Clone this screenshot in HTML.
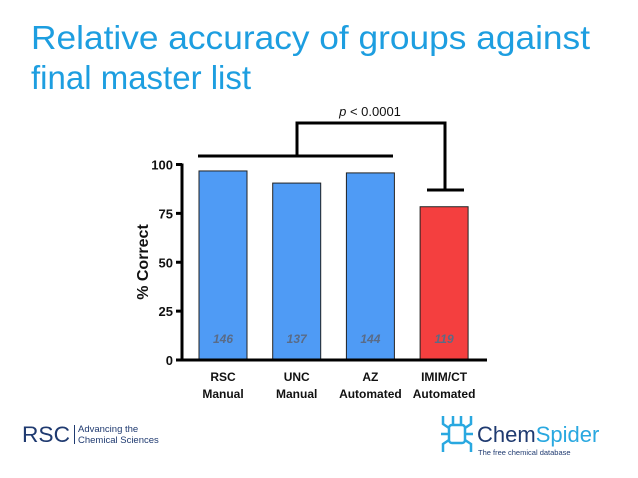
<!DOCTYPE html>
<html><head><meta charset="utf-8"><style>
body{margin:0;background:#fff;}
svg{display:block;font-family:"Liberation Sans",Arial,sans-serif;}
</style></head><body>
<svg width="638" height="478" viewBox="0 0 638 478">
<text x="31" y="49" font-size="33" fill="#1d9ee0" textLength="559" lengthAdjust="spacingAndGlyphs">Relative accuracy of groups against</text>
<text x="31" y="89" font-size="33" fill="#1d9ee0">final master list</text>
<g id="chart"></g>
<g>
<text x="22" y="442" font-size="22" fill="#1f3a70" textLength="48" lengthAdjust="spacingAndGlyphs">RSC</text>
<rect x="74" y="425" width="1" height="19" fill="#1f3a70"/>
<text x="78" y="432" font-size="9.5" fill="#1f3a70">Advancing the</text>
<text x="78" y="443" font-size="9.5" fill="#1f3a70">Chemical Sciences</text>
</g>
<g stroke="#29a8e0" stroke-width="2.5" fill="none">
<rect x="449" y="425" width="16" height="18" rx="3"/>
<path d="M449 428 l-6 -4 v-8 M465 428 l6 -4 v-8 M449 440 l-6 4 v8 M465 440 l6 4 v8 M449 434 h-8 M465 434 h8 M453 425 v-9 M461 425 v-9"/>
</g>
<text x="477" y="442" font-size="22" fill="#1f3a70">Chem<tspan fill="#29a8e0">Spider</tspan></text>
<text x="478" y="455" font-size="7.5" fill="#1f3a70">The free chemical database</text>
</svg>
<script>
const categories=["RSC","UNC","AZ","IMIM/CT"];
const subLabels=["Manual","Manual","Automated","Automated"];
const values=[96.7,90.5,95.7,78.4];
const counts=["146","137","144","119"];
const colors=["#4f9bf5","#4f9bf5","#4f9bf5","#f43f3f"];
const yTicks=[0,25,50,75,100];
const NS="http://www.w3.org/2000/svg";
const g=document.getElementById('chart');
const y0=360,y100=164.5;
function ys(v){return y0-(y0-y100)*v/100;}
const bx0=199,step=73.7,bw=48;
function xs(i){return bx0+i*step;}
function mk(t,a,txt){const e=document.createElementNS(NS,t);for(const k in a)e.setAttribute(k,a[k]);if(txt!=null)e.textContent=txt;g.appendChild(e);return e;}
values.forEach((v,i)=>{
 const r=mk('rect',{x:xs(i),y:ys(v),width:bw,height:y0-ys(v),fill:colors[i],stroke:"#222","stroke-width":1});
 
 
 const c=mk('text',{x:xs(i)+bw/2,y:343,"text-anchor":"middle","font-size":12,"font-weight":"bold","font-style":"italic",fill:"#5a6b86"},counts[i]);
 
 
 const l1=mk('text',{x:xs(i)+bw/2,y:381,"text-anchor":"middle","font-size":12,"font-weight":"bold",fill:"#111"},categories[i]);
 
 
 const l2=mk('text',{x:xs(i)+bw/2,y:398,"text-anchor":"middle","font-size":12,"font-weight":"bold",fill:"#111"},subLabels[i]);
 
 
});
const ax=mk('path',{d:`M182 ${y100-1} V${y0} H487`,stroke:"#000","stroke-width":3,fill:"none"});


yTicks.forEach(t=>{
 mk('line',{x1:176,x2:182,y1:ys(t),y2:ys(t),stroke:"#000","stroke-width":3});
 const tl=mk('text',{x:173,y:ys(t)+5,"text-anchor":"end","font-size":13,"font-weight":"bold",fill:"#111"},t);
 
 
});
const yt=mk('text',{x:148,y:262,"text-anchor":"middle","font-size":16,"font-weight":"bold",fill:"#111",transform:"rotate(-90 148 262)"},"% Correct");


const br=mk('path',{d:"M198 156 H393 M297 156 V123 H445 V190 M427 190 H464",stroke:"#000","stroke-width":3,fill:"none"});


const p=mk('text',{x:370,y:116,"text-anchor":"middle","font-size":13,fill:"#111"});
p.innerHTML='<tspan font-style="italic">p</tspan> &lt; 0.0001';


</script>
</body></html>
